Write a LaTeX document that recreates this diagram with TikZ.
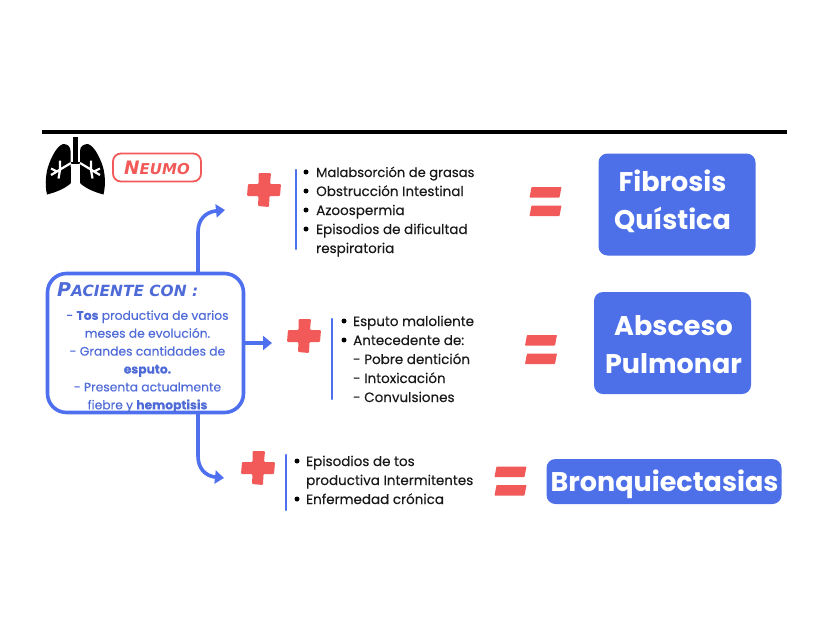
\documentclass[tikz,border=0pt]{standalone}
\usepackage{fontspec}
\setmainfont{Poppins}
\newfontfamily\medfont[FakeBold=0.25]{Poppins}
\newfontfamily\ptfont[FakeBold=0.15]{Poppins}
\newfontfamily\handfont{DejaVu Sans}
\usetikzlibrary{arrows.meta}
\definecolor{blu}{HTML}{4F70EE}
\definecolor{tblu}{HTML}{4F6BD8}
\definecolor{redd}{HTML}{F25A5A}
\definecolor{box}{HTML}{4D6FE8}
\tikzset{
 x=1pt,y=-1pt,
 listtxt/.style={anchor=base west,inner sep=0pt,font=\medfont\fontsize{13.5}{19}\selectfont,text=black!90},
 bull/.style={circle,fill=black,inner sep=0pt,minimum size=5pt},
 bar/.style={draw=blu,line width=2.4pt,line cap=round},
 conn/.style={draw=blu,line width=3.6pt,-{Triangle[length=9pt,width=13pt]}},
 result/.style={fill=box,rounded corners=9pt,inner sep=0pt},
 restxt/.style={text=white,align=center,font=\fontsize{27}{38}\selectfont\bfseries,inner sep=0pt},
 patient/.style={draw=blu,line width=3.6pt,rounded corners=19pt,fill=white,inner sep=0pt},
 ptxt/.style={text=tblu,align=center,inner sep=0pt,font=\ptfont\fontsize{12.3}{17.9}\selectfont},
}
\newcommand{\plusmark}[2]{\fill[redd,rounded corners=1pt] (#1-5.5,#2-17)--(#1+7,#2-17)--(#1+6,#2-6)--(#1+17,#2-6)--(#1+16,#2+6)--(#1+5.5,#2+6)--(#1+5,#2+17)--(#1-6,#2+16)--(#1-5.5,#2+6)--(#1-17,#2+6)--(#1-16,#2-6)--(#1-5.5,#2-6)--cycle;}
\newcommand{\eqmark}[2]{\fill[redd,rounded corners=.6pt] (#1-14,#2-14.5)--(#1+16,#2-14.5)--(#1+14,#2-4)--(#1-16,#2-4)--cycle;
 \fill[redd,rounded corners=.6pt] (#1-14,#2+4)--(#1+16,#2+4)--(#1+14,#2+14.5)--(#1-16,#2+14.5)--cycle;}
\begin{document}
\begin{tikzpicture}
\useasboundingbox (0,0) rectangle (829,640);
\fill[white] (0,0) rectangle (829,640);
\fill[black] (42,130) rectangle (787,134);
% lungs
\fill[black] (73,137) rectangle (77.5,163);
\draw[black,line width=2pt] (68,163)--(82,163);
\fill[black] (70.5,151) .. controls (70.5,146) and (67,144) .. (63,144) .. controls (57,146) and (52,156) .. (49,164) .. controls (46,172) and (44.5,184) .. (47,194.5) .. controls (57,192) and (66,188) .. (71,183) -- cycle;
\fill[black] (80,151) .. controls (80,146) and (84,144) .. (88,144) .. controls (94,146) and (99,156) .. (102,164) .. controls (105,172) and (106,184) .. (103.5,194.5) .. controls (94,192) and (85,188) .. (80,183) -- cycle;
\draw[white,line width=2.2pt] (71,163)--(56,172) (60,160.5)--(60,169.5) (51,168.5)--(57,171.5) (51,175)--(57,171.5) (58.5,178.5)--(60,170);
\draw[white,line width=2.2pt] (80,163)--(95,172) (91,160.5)--(91,169.5) (100,168.5)--(94,171.5) (100,175)--(94,171.5) (92.5,178.5)--(91,170);
% neumo
\node[draw=redd,line width=1.8pt,rounded corners=8pt,minimum width=88pt,minimum height=28pt,inner sep=0pt,text=redd,font=\handfont\fontsize{18.5}{18}\selectfont\bfseries\itshape] (neumo) at (157,167.5) {N\fontsize{15}{18}\selectfont EUMO};
% patient
\node[patient,minimum width=196pt,minimum height=139pt] (pat) at (145.5,343) {};
\coordinate (a1) at (225,210);\coordinate (a2) at (272,343);\coordinate (a3) at (224,478);
\coordinate (t1) at (198,272);\coordinate (b1) at (198,414);
\draw[conn] (t1) -- (198,232) .. controls (198,220) and (205,212) .. (a1);
\draw[conn,line width=4.4pt,-{Triangle[length=9pt,width=14pt]}] (pat.east) -- (a2);
\draw[conn] (b1) -- (198,456) .. controls (198,468) and (205,476) .. (a3);
\node[anchor=west,inner sep=0pt,text=tblu,font=\handfont\fontsize{19}{19}\selectfont\bfseries\itshape] (ptitle) at (57,290) {P\fontsize{15.4}{19}\selectfont ACIENTE CON :};
\node[ptxt] (ptext) at (147.5,361.5) {- \textbf{Tos} productiva de varios\\meses de evolución.\\- Grandes cantidades de\\\textbf{esputo.}\\- Presenta actualmente\\fiebre y \textbf{hemoptisis}};
% row 1
\plusmark{264}{190}
\draw[bar] (296,170)--(296,249);
\node[bull] (bua) at (306,172) {};
\node[listtxt] (lia) at (316,177) {\fontsize{13.1}{19}\selectfont Malabsorción de grasas};
\foreach \n/\y/\t in {b/191/Obstrucción Intestinal,c/210/Azoospermia,d/229/Episodios de dificultad}{
 \node[bull] (bu\n) at (306,\y) {};
 \node[listtxt] (li\n) at (316,\y+5) {\t};
}
\node[listtxt] (lie) at (316,253) {respiratoria};
\eqmark{545.5}{201.5}
\node[result,minimum width=157pt,minimum height=102pt] (r1) at (677,204.5) {};
\node[restxt] (r1t) at (672.5,201.5) {Fibrosis\\Quística};
% row 2
\plusmark{304}{336}
\draw[bar] (332,319)--(332,399);
\foreach \n/\y/\t in {a/321/Esputo maloliente,b/340/Antecedente de:}{
 \node[bull] (cu\n) at (344,\y) {};
 \node[listtxt] (mi\n) at (353,\y+5) {\t};
}
\node[listtxt] (mic) at (353,364) {- Pobre dentición};
\node[listtxt] (mid) at (353,383) {- Intoxicación};
\node[listtxt] (mie) at (353,402) {- Convulsiones};
\eqmark{541}{349.5}
\node[result,minimum width=157pt,minimum height=102pt] (r2) at (672.5,343) {};
\node[restxt] (r2t) at (673.5,344.5) {Absceso\\Pulmonar};
% row 3
\plusmark{258}{468}
\draw[bar] (286,455)--(286,510);
\node[bull] (du1) at (297,461) {};
\node[listtxt] (bo1) at (306,466) {Episodios de tos};
\node[listtxt] (bo2) at (306,485) {productiva Intermitentes};
\node[bull] (du2) at (297,499) {};
\node[listtxt] (bo3) at (306,504) {Enfermedad crónica};
\eqmark{510.5}{481}
\node[result,minimum width=235pt,minimum height=45pt] (r3) at (664,481.5) {};
\node[restxt] (r3t) at (664.5,484) {Bronquiectasias};
\end{tikzpicture}
\end{document}
